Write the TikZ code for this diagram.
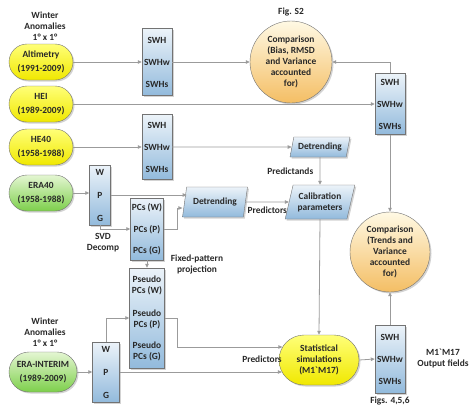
\documentclass[tikz,border=0pt]{standalone}
\usepackage{fontspec}
\setmainfont{Carlito}
\usetikzlibrary{shapes.geometric, shapes.misc, arrows.meta, shadows, calc}
\definecolor{linegray}{RGB}{155,155,155}
\definecolor{bordergray}{RGB}{115,115,115}
\definecolor{textgray}{RGB}{40,40,40}
\definecolor{boxtop}{RGB}{236,243,249}
\definecolor{boxbot}{RGB}{146,186,220}
\definecolor{cirtop}{RGB}{255,249,228}
\definecolor{cirbot}{RGB}{244,190,100}
\definecolor{yeltop}{RGB}{255,255,120}
\definecolor{yelbot}{RGB}{240,232,0}
\definecolor{grntop}{RGB}{228,246,210}
\definecolor{grnbot}{RGB}{125,207,75}
\tikzset{
	shadowed/.style={drop shadow={shadow xshift=1.5pt, shadow yshift=-1.5pt, opacity=0.35}},
	source/.style={rounded rectangle, draw=bordergray, shadowed, minimum width=66pt, minimum height=36pt, inner sep=1pt, align=center},
	yellowsrc/.style={source, top color=yeltop, bottom color=yelbot},
	greensrc/.style={source, top color=grntop, bottom color=grnbot},
	block/.style={rectangle, draw=bordergray, shadowed, top color=boxtop, bottom color=boxbot, inner sep=0pt, align=center},
	compare/.style={circle, draw=bordergray, shadowed, top color=cirtop, bottom color=cirbot, inner sep=0pt, align=center},
	para/.style={trapezium, trapezium left angle=72, trapezium right angle=108, trapezium stretches=true, draw=bordergray, shadowed, top color=boxtop, bottom color=boxbot, inner sep=1pt, align=center},
	flow/.style={draw=linegray, line width=0.8pt, -{Triangle[length=4pt, width=3.5pt]}},
	note/.style={align=center, inner sep=0pt}
}

\begin{document}
\begin{tikzpicture}[x=1pt, y=-1pt, font=\fontsize{9.4}{11}\selectfont\bfseries, text=textgray]
		\useasboundingbox (0,0) rectangle (474,413);
		
		% sources
		\node[note] (winterA) at (45,26) {Winter\\Anomalies\\1° x 1°};
		\node[yellowsrc] (alt) at (41,62) {Altimetry\\[3pt](1991-2009)};
		\node[yellowsrc] (hei) at (41,104) {HEI\\[3pt](1989-2009)};
		\node[yellowsrc] (he40) at (41,147) {HE40\\[3pt](1958-1988)};
		\node[greensrc] (era40) at (41,193) {ERA40\\[3pt](1958-1988)};
		\node[note] (winterB) at (45,332) {Winter\\Anomalies\\1° x 1°};
		\node[greensrc, minimum width=70pt, minimum height=40pt] (eraI) at (43,372) {ERA-INTERIM\\[3pt](1989-2009)};
		
		% wave height fields
		\node[block, minimum width=30pt, minimum height=67pt] (swhA) at (157,62) {SWH\\[11pt]SWHw\\[11pt]SWHs};
		\node[block, minimum width=30pt, minimum height=65pt] (swhB) at (157,147) {SWH\\[11pt]SWHw\\[11pt]SWHs};
		\node[block, minimum width=30pt, minimum height=61pt] (swhC) at (390,104) {SWH\\[11pt]SWHw\\[11pt]SWHs};
		\node[block, minimum width=30pt, minimum height=68pt] (swhD) at (390,359) {SWH\\[11pt]SWHw\\[11pt]SWHs};
		
		% predictor fields
		\node[block, minimum width=21pt, minimum height=60pt] (wpgA) at (100,195) {W\\[12pt]P\\[12pt]G};
		\node[block, minimum width=27pt, minimum height=60pt] (wpgB) at (106,372) {W\\[12pt]P\\[12pt]G};
		\node[block, minimum width=33pt, minimum height=62pt] (pcs) at (147,229) {PCs (W)\\[11pt]PCs (P)\\[10pt]PCs (G)};
		\node[block, minimum width=35pt, minimum height=100pt] (pseudo) at (147,318) {Pseudo\\PCs (W)\\[12pt]Pseudo\\PCs (P)\\[10pt]Pseudo\\PCs (G)};
		
		% comparisons
		\node[compare, minimum size=82pt] (cmpA) at (291,62) {Comparison\\(Bias, RMSD\\and Variance\\accounted\\for)};
		\node[compare, minimum size=80pt] (cmpB) at (390,252) {Comparison\\(Trends and\\Variance\\accounted\\for)};
		
		% processing
		\node[para, minimum width=60pt, minimum height=20pt] (detA) at (320,147) {Detrending};
		\node[para, minimum width=65pt, minimum height=30pt] (detB) at (215,202) {Detrending};
		\node[para, minimum width=70pt, minimum height=34pt] (calib) at (320,202) {Calibration\\parameters};
		\node[yellowsrc, minimum width=82pt, minimum height=50pt] (sim) at (319,360) {Statistical\\simulations\\(M1\textasciigrave M17)};
		
		% notes
		\node[note] (figS2) at (291,12) {Fig. S2};
		\node[note] (svd) at (103,243) {SVD\\Decomp};
		\node[note] (fixed) at (197,264) {Fixed-pattern\\projection};
		\node[note] (predB) at (262,359) {Predictors};
		\node[note] (figs) at (390,401) {Figs. 4,5,6};
		\node[note] (outfields) at (443,358) {M1\textasciigrave M17\\Output fields};
		
		\coordinate (detBtop) at ($(detB.west)+(2.3,-7)$);
		\coordinate (detBlow) at ($(detB.west)+(-2,6)$);
		\coordinate (simtop) at ($(sim.west)+(3.6,-13)$);
		\coordinate (simlow) at ($(sim.west)+(3.1,12)$);
		
		\draw[flow] (alt.east) -- (swhA.west);
		\draw[flow] (swhA.east) -- (cmpA.west);
		\draw[flow] (hei.east) -- (swhC.west);
		\draw[flow] (swhC.north) |- (cmpA.east);
		\draw[flow] (swhC.south) -- (cmpB.north);
		\draw[flow] (swhD.north) -- (cmpB.south);
		\draw[flow] (he40.east) -- (swhB.west);
		\draw[flow] (swhB.east) -- (detA.west);
		\draw[flow] (detA.south) -- node[left=3pt]{Predictands} (calib.north);
		\draw[flow] (detB.east) -- node[below=1pt]{Predictors} (calib.west);
		\draw[flow] (calib.south) -- (sim.north);
		\draw[flow] (sim.east) -- (swhD.west);
		\draw[flow] (era40.east) -- (era40.east -| wpgA.west);
		\draw[flow] (wpgA.east) -- (wpgA.east -| detBtop);
		\draw[flow] (wpgA.south) |- (pcs.west);
		\draw[flow] (pcs.east) -- ++(14,0) |- (detBlow);
		\draw[flow] (pcs.south) -- (pseudo.north);
		\draw[flow] (eraI.east) -- (wpgB.west);
		\draw[flow] (wpgB.north) |- (pseudo.west);
		\draw[flow] (pseudo.east) -- ++(13,0) |- (simtop);
		\draw[flow] (wpgB.east) -- (wpgB.east -| simlow);
	\end{tikzpicture}
\end{document}
